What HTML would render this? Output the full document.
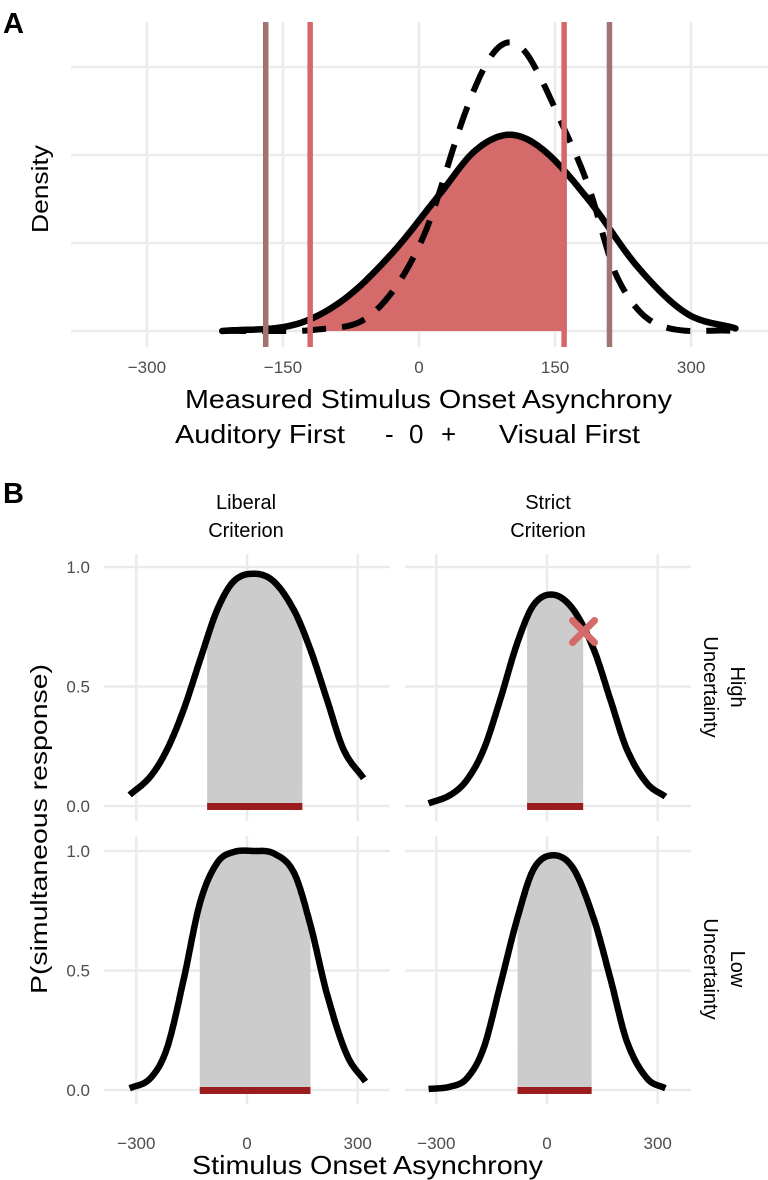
<!DOCTYPE html>
<html><head><meta charset="utf-8"><style>
html,body{margin:0;padding:0;background:#fff}
svg{display:block;font-family:"Liberation Sans",Arial,sans-serif}
</style></head><body>
<svg id="chart" width="768" height="1180" viewBox="0 0 768 1180" xmlns="http://www.w3.org/2000/svg">
<g id="gA"></g>
<g id="gB"></g>
</svg>
<script>
// ---------- Panel A data ----------
const aTicks = [-300, -150, 0, 150, 300];
const aGridY = [0, 1, 2, 3];
const aSolidX = [-217, -138, -84, -30, 24, 62, 100, 138, 187, 241, 295, 349];
const aSolidY = [0.0, 0.07, 0.35, 0.88, 1.57, 2.05, 2.23, 2.05, 1.49, 0.73, 0.2, 0.03];
const aDashX = [-217, -109, -51, 3, 52, 78, 100, 122, 160, 187, 219, 262, 349];
const aDashY = [0.0, 0.02, 0.2, 1.03, 2.51, 3.1, 3.28, 3.1, 2.3, 1.64, 0.6, 0.08, 0.0];
const aShade = [-120, 163];
const aOuterLines = [-169, 210];
const aInnerLines = [-120, 160];

// ---------- Panel B data ----------
const bTicksX = [-300, 0, 300];
const bTicksY = [0, 0.5, 1.0];
const bTickLabelsY = ["0.0", "0.5", "1.0"];
const hlX = [-318, -262, -217, -172, -127, -81, -36, 18, 72, 127, 172, 217, 262, 316];
const hlY = [0.046, 0.123, 0.235, 0.402, 0.612, 0.82, 0.94, 0.972, 0.94, 0.82, 0.654, 0.444, 0.235, 0.116];
const hlShade = [-108, 150];
const hsX = [-321, -262, -217, -172, -127, -81, -36, 18, 72, 127, 172, 217, 271, 321];
const hsY = [0.011, 0.046, 0.109, 0.235, 0.444, 0.68, 0.842, 0.884, 0.82, 0.654, 0.444, 0.235, 0.095, 0.039];
const hsShade = [-54, 98];
const hsMark = [99, 0.73];
const llX = [-318, -262, -217, -172, -127, -81, -36, 18, 72, 127, 172, 217, 271, 321];
const llY = [0.007, 0.049, 0.174, 0.46, 0.785, 0.95, 0.996, 1.0, 0.99, 0.91, 0.69, 0.40, 0.146, 0.035];
const llShade = [-128, 172];
const lsX = [-321, -262, -217, -172, -127, -81, -36, 18, 72, 127, 172, 217, 271, 321];
const lsY = [0.004, 0.014, 0.049, 0.174, 0.437, 0.715, 0.925, 0.982, 0.925, 0.715, 0.465, 0.201, 0.049, 0.007];
const lsShade = [-80, 121];

const NS = "http://www.w3.org/2000/svg";
function mk(parent, tag, attrs) {
  const e = document.createElementNS(NS, tag);
  for (const k in attrs) e.setAttribute(k, attrs[k]);
  parent.appendChild(e);
  return e;
}
// Cubic Hermite densify with centered-difference tangents (smoothing only)
function dense(xs, ys) {
  const n = xs.length, m = [];
  for (let i = 0; i < n; i++) {
    const a = Math.max(i - 1, 0), b = Math.min(i + 1, n - 1);
    m.push((ys[b] - ys[a]) / (xs[b] - xs[a]));
  }
  const out = [];
  for (let i = 0; i < n - 1; i++) {
    const h = xs[i + 1] - xs[i];
    for (let s = 0; s < 20; s++) {
      const t = s / 20, t2 = t * t, t3 = t2 * t;
      const y = (2 * t3 - 3 * t2 + 1) * ys[i] + (t3 - 2 * t2 + t) * h * m[i] + (-2 * t3 + 3 * t2) * ys[i + 1] + (t3 - t2) * h * m[i + 1];
      out.push([xs[i] + t * h, Math.max(0, y)]);
    }
  }
  out.push([xs[n - 1], ys[n - 1]]);
  return out;
}
function interpY(pts, x) {
  for (let i = 0; i < pts.length - 1; i++) {
    if (pts[i][0] <= x && pts[i + 1][0] >= x) {
      const t = (x - pts[i][0]) / (pts[i + 1][0] - pts[i][0] || 1);
      return pts[i][1] + t * (pts[i + 1][1] - pts[i][1]);
    }
  }
  return 0;
}
function pathD(pts, sx, sy) {
  return pts.map((p, i) => (i ? "L" : "M") + sx(p[0]).toFixed(1) + "," + sy(p[1]).toFixed(1)).join("");
}
function areaD(pts, a, b, sx, sy) {
  const inner = pts.filter(p => p[0] > a && p[0] < b);
  const seq = [[a, interpY(pts, a)], ...inner, [b, interpY(pts, b)]];
  let d = "M" + sx(a) + "," + sy(0);
  seq.forEach(p => d += "L" + sx(p[0]).toFixed(1) + "," + sy(p[1]).toFixed(1));
  d += "L" + sx(b) + "," + sy(0) + "Z";
  return d;
}
function txt(parent, x, y, s, size, attrs) {
  const t = mk(parent, "text", Object.assign({x: x, y: y, "font-size": size}, attrs || {}));
  t.textContent = s;
  return t;
}

// ---------- Panel A ----------
(function () {
  const g = document.getElementById("gA");
  const sx = v => 419 + v * 0.907;
  const sy = v => 331 - v * 88;
  const grid = mk(g, "g", {});
  
  
  aGridY.forEach(v => {
    const l = mk(grid, "line", {x1: 71, x2: 768, y1: sy(v), y2: sy(v), stroke: "#ebebeb", "stroke-width": 2.5});
    
    
  });
  aTicks.forEach(v => {
    const l = mk(grid, "line", {x1: sx(v), x2: sx(v), y1: 22, y2: 347, stroke: "#ebebeb", "stroke-width": 2.5});
    
    
  });
  const ds = dense(aSolidX, aSolidY);
  const dd = dense(aDashX, aDashY);
  const area = mk(g, "path", {d: areaD(ds, aShade[0], aShade[1], sx, sy), fill: "#d46a6a"});
  
  
  const dash = mk(g, "path", {d: pathD(dd, sx, sy), fill: "none", stroke: "#000", "stroke-width": 6, "stroke-dasharray": "24,16", "stroke-linecap": "butt"});
  
  
  const sol = mk(g, "path", {d: pathD(ds, sx, sy), fill: "none", stroke: "#000", "stroke-width": 6.5, "stroke-linecap": "round"});
  
  
  aOuterLines.forEach(v => {
    const l = mk(g, "line", {x1: sx(v), x2: sx(v), y1: 22, y2: 347, stroke: "#a37372", "stroke-width": 5.5});
    
    
  });
  aInnerLines.forEach(v => {
    const l = mk(g, "line", {x1: sx(v), x2: sx(v), y1: 22, y2: 347, stroke: "#d4686a", "stroke-width": 5.5});
    
    
  });
  aTicks.forEach(v => {
    const t = txt(g, sx(v), 373, (v < 0 ? "\u2212" : "") + Math.abs(v), 17, {fill: "#4d4d4d", "text-anchor": "middle"});
    
    
  });
  const lab = txt(g, 3, 33, "A", 29, {"font-weight": "bold"});
  
  
  const yt = txt(g, 0, 0, "Density", 23, {transform: "translate(48,189) rotate(-90)", "text-anchor": "middle", textLength: 88, lengthAdjust: "spacingAndGlyphs"});
  
  
  const xt = txt(g, 185, 408, "Measured Stimulus Onset Asynchrony", 26, {textLength: 487, lengthAdjust: "spacingAndGlyphs"});
  
  
  const a1 = txt(g, 175, 443, "Auditory First", 26, {textLength: 170, lengthAdjust: "spacingAndGlyphs"});
  
  
  const a2 = txt(g, 385, 443, "-", 26);
  
  
  const a3 = txt(g, 409, 443, "0", 26);
  
  
  const a4 = txt(g, 441, 443, "+", 26);
  
  
  const a5 = txt(g, 499, 443, "Visual First", 26, {textLength: 141, lengthAdjust: "spacingAndGlyphs"});
  
  
})();

// ---------- Panel B ----------
(function () {
  const g = document.getElementById("gB");
  const cols = [{x0: 104, x1: 390, z: 247}, {x0: 405, x1: 691, z: 547}];
  const rows = [{y0: 554, y1: 821, b: 806}, {y0: 836, y1: 1104, b: 1090}];
  const panels = [
    {r: 0, c: 0, xs: hlX, ys: hlY, sh: hlShade, name: "high-liberal"},
    {r: 0, c: 1, xs: hsX, ys: hsY, sh: hsShade, name: "high-strict"},
    {r: 1, c: 0, xs: llX, ys: llY, sh: llShade, name: "low-liberal"},
    {r: 1, c: 1, xs: lsX, ys: lsY, sh: lsShade, name: "low-strict"}
  ];
  panels.forEach(p => {
    const C = cols[p.c], R = rows[p.r];
    const sx = v => C.z + v * 0.369;
    const sy = v => R.b - v * 239;
    const pg = mk(g, "g", {});
    
    
    bTicksY.forEach(v => {
      const l = mk(pg, "line", {x1: C.x0, x2: C.x1, y1: sy(v), y2: sy(v), stroke: "#ebebeb", "stroke-width": 2.5});
      
      
    });
    bTicksX.forEach(v => {
      const l = mk(pg, "line", {x1: sx(v), x2: sx(v), y1: R.y0, y2: R.y1, stroke: "#ebebeb", "stroke-width": 2.5});
      
      
    });
    const pts = dense(p.xs, p.ys);
    const ar = mk(pg, "path", {d: areaD(pts, p.sh[0], p.sh[1], sx, sy), fill: "#cccccc"});
    
    
    const bar = mk(pg, "rect", {x: sx(p.sh[0]), y: sy(0) - 3, width: sx(p.sh[1]) - sx(p.sh[0]), height: 7, fill: "#9b1c1c"});
    
    
    const cv = mk(pg, "path", {d: pathD(pts, sx, sy), fill: "none", stroke: "#000", "stroke-width": 6.5});
    
    
    if (p.name === "high-strict") {
      const mx = sx(hsMark[0]), my = sy(hsMark[1]);
      const xm = mk(pg, "path", {d: `M${mx-11},${my-11}L${mx+11},${my+11}M${mx-11},${my+11}L${mx+11},${my-11}`, stroke: "#d46a6a", "stroke-width": 7, "stroke-linecap": "round", fill: "none"});
      
      
    }
    if (p.c === 0) {
      bTicksY.forEach((v, i) => {
        const t = txt(pg, 90, sy(v) + 6, bTickLabelsY[i], 17, {fill: "#4d4d4d", "text-anchor": "end"});
        
        
      });
    }
    if (p.r === 1) {
      bTicksX.forEach(v => {
        const t = txt(pg, sx(v), 1149, (v < 0 ? "\u2212" : "") + Math.abs(v), 17, {fill: "#4d4d4d", "text-anchor": "middle"});
        
        
      });
    }
  });
  const lab = txt(g, 3, 503, "B", 29, {"font-weight": "bold"});
  
  
  [["Liberal", "Criterion", 246], ["Strict", "Criterion", 548]].forEach(s => {
    const t1 = txt(g, s[2], 509, s[0], 20, {"text-anchor": "middle"});
    
    
    const t2 = txt(g, s[2], 537, s[1], 20, {"text-anchor": "middle"});
    
    
  });
  [["High", 687], ["Low", 969]].forEach(s => {
    const t1 = txt(g, 0, 0, s[0], 20, {"text-anchor": "middle", transform: `translate(731,${s[1]}) rotate(90)`});
    
    
    const t2 = txt(g, 0, 0, "Uncertainty", 20, {"text-anchor": "middle", transform: `translate(704,${s[1]}) rotate(90)`});
    
    
  });
  const yt = txt(g, 0, 0, "P(simultaneous response)", 23, {transform: "translate(47,829) rotate(-90)", "text-anchor": "middle", textLength: 330, lengthAdjust: "spacingAndGlyphs"});
  
  
  const xt = txt(g, 192, 1174, "Stimulus Onset Asynchrony", 26, {textLength: 351, lengthAdjust: "spacingAndGlyphs"});
  
  
})();
</script>
</body></html>
